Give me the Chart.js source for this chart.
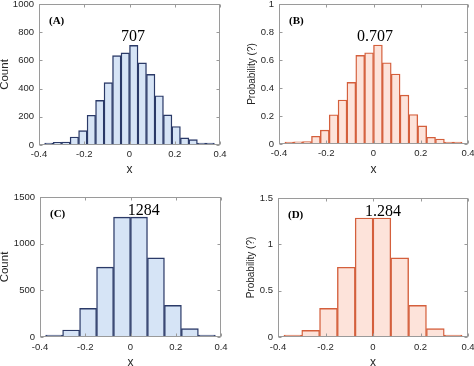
<!DOCTYPE html>
<html>
<head>
<meta charset="utf-8">
<script src="https://cdn.jsdelivr.net/npm/chart.js@4.4.0/dist/chart.umd.min.js"></script>
<style>
    html, body { margin: 0; padding: 0; background: #fff; overflow: hidden; }
    .panel { position: absolute; width: 237px; height: 183px; }
</style>
</head>
<body>
<div class="panel" style="left:0;top:0"><canvas id="chartA"></canvas></div>
<div class="panel" style="left:237px;top:0"><canvas id="chartB"></canvas></div>
<div class="panel" style="left:0;top:183px"><canvas id="chartC"></canvas></div>
<div class="panel" style="left:237px;top:183px"><canvas id="chartD"></canvas></div>
<script>
// bin centres (bin width 0.0375 on top row, 0.075 on bottom row)
const binsFine = [-0.35625, -0.31875, -0.28125, -0.24375, -0.20625, -0.16875, -0.13125, -0.09375, -0.05625, -0.01875,
    0.01875, 0.05625, 0.09375, 0.13125, 0.16875, 0.20625, 0.24375, 0.28125, 0.31875, 0.35625];
const binsCoarse = [-0.3375, -0.2625, -0.1875, -0.1125, -0.0375, 0.0375, 0.1125, 0.1875, 0.2625, 0.3375];

const countsA = [7, 19, 21, 57, 102, 211, 316, 442, 634, 653, 707, 582, 501, 349, 214, 131, 50, 38, 9, 5];
const probB = [0.005, 0.016, 0.018, 0.055, 0.099, 0.209, 0.314, 0.44, 0.633, 0.652, 0.707, 0.58, 0.5, 0.349, 0.211, 0.129, 0.048, 0.036, 0.006, 0.003];
const countsC = [21, 75, 306, 748, 1284, 1284, 848, 338, 89, 7];
const probD = [0.018, 0.072, 0.309, 0.753, 1.284, 1.284, 0.854, 0.341, 0.09, 0.007];

const xTicks = [-0.4, -0.2, 0, 0.2, 0.4];

const blue = { fill: '#d6e4f6', edge: '#2b3a68' };
const red = { fill: '#fde3da', edge: '#d45f3c' };

// box round the axes, inward ticks, panel tag and peak value
const frame = {
    id: 'frame',
    afterDatasetsDraw(chart, args, opts) {
        const { ctx, chartArea: a, scales: { x, y } } = chart;
        const l = Math.round(a.left) + 0.5, r = Math.round(a.right) - 0.5;
        const t = Math.round(a.top) + 0.5, b = Math.round(a.bottom) - 0.5;
        ctx.save();
        ctx.strokeStyle = '#9a9a9a';
        ctx.lineWidth = 1;
        ctx.strokeRect(l, t, r - l, b - t);
        ctx.beginPath();
        x.ticks.forEach(tk => {
            const px = Math.round(x.getPixelForValue(tk.value)) + 0.5;
            ctx.moveTo(px, b); ctx.lineTo(px, b - 3);
            ctx.moveTo(px, t); ctx.lineTo(px, t + 3);
        });
        y.ticks.forEach(tk => {
            const py = Math.round(y.getPixelForValue(tk.value)) + 0.5;
            ctx.moveTo(l, py); ctx.lineTo(l + 3, py);
            ctx.moveTo(r, py); ctx.lineTo(r - 3, py);
        });
        ctx.stroke();

        ctx.fillStyle = '#000';
        ctx.textAlign = 'left';
        ctx.textBaseline = 'alphabetic';
        ctx.font = 'bold 11px "Liberation Serif"';
        ctx.fillText(opts.tag, a.left + 10, a.top + 20);

        ctx.textAlign = 'center';
        ctx.font = '16px "Liberation Serif"';
        ctx.fillText(opts.peakText, x.getPixelForValue(opts.peakX), y.getPixelForValue(opts.peakY) - opts.peakGap);
        ctx.restore();
    }
};

function makeHist(id, p) {
    const W = 237, H = 183;
    return new Chart(document.getElementById(id), {
        type: 'bar',
        data: {
            datasets: [{
                data: p.bins.map((b, i) => ({ x: b, y: p.values[i] })),
                backgroundColor: p.color.fill,
                borderColor: p.color.edge,
                borderWidth: 1.4,
                borderSkipped: false,
                minBarLength: 2,
                barPercentage: 1,
                categoryPercentage: 1
            }]
        },
        options: {
            responsive: false,
            animation: false,
            devicePixelRatio: 1,
            layout: { padding: { top: p.area.top, right: W - p.area.right, left: 0, bottom: 0 } },
            plugins: {
                legend: { display: false },
                tooltip: { enabled: false },
                frame: { tag: p.tag, peakText: p.peakText, peakX: p.peakX, peakY: p.peakY, peakGap: p.peakGap }
            },
            scales: {
                x: {
                    type: 'linear',
                    offset: false,
                    min: -0.4,
                    max: 0.4,
                    afterBuildTicks: s => { s.ticks = xTicks.map(v => ({ value: v })); },
                    grid: { display: false, drawTicks: false },
                    border: { display: false },
                    ticks: {
                        color: '#262626',
                        padding: p.xTickPad,
                        maxRotation: 0,
                        autoSkip: false,
                        font: { family: 'Liberation Sans', size: 9.5 },
                        callback: v => String(Math.round(v * 10) / 10)
                    },
                    title: {
                        display: true,
                        text: 'x',
                        color: '#262626',
                        font: { family: 'Liberation Sans', size: 12 },
                        padding: { top: 0, bottom: p.xTitlePad }
                    },
                    afterFit: s => { s.height = H - p.area.bottom; s.paddingLeft = 0; s.paddingRight = 0; }
                },
                y: {
                    min: 0,
                    max: p.yMax,
                    afterBuildTicks: s => { s.ticks = p.yTicks.map(v => ({ value: v })); },
                    grid: { display: false, drawTicks: false },
                    border: { display: false },
                    ticks: {
                        color: '#262626',
                        padding: 5,
                        font: { family: 'Liberation Sans', size: 9.5 },
                        callback: v => String(Math.round(v * 100) / 100)
                    },
                    title: {
                        display: true,
                        text: p.yTitle,
                        color: '#262626',
                        font: { family: 'Liberation Sans', size: p.yTitleSize },
                        padding: { top: p.yTitlePad, bottom: 0 }
                    },
                    afterFit: s => { s.width = p.area.left; s.paddingTop = 0; s.paddingBottom = 0; }
                }
            }
        },
        plugins: [frame]
    });
}

document.querySelectorAll('canvas').forEach(c => { c.width = 237; c.height = 183; });

makeHist('chartA', {
    bins: binsFine, values: countsA, color: blue, tag: '(A)',
    peakText: '707', peakX: 0.015, peakY: 707, peakGap: 4,
    yMax: 1000, yTicks: [0, 200, 400, 600, 800, 1000],
    yTitle: 'Count', yTitleSize: 11.5, yTitlePad: -2,
    area: { left: 39, right: 220, top: 4, bottom: 145 }, xTickPad: 4, xTitlePad: 6
});
makeHist('chartB', {
    bins: binsFine, values: probB, color: red, tag: '(B)',
    peakText: '0.707', peakX: 0.006, peakY: 0.707, peakGap: 4,
    yMax: 1, yTicks: [0, 0.2, 0.4, 0.6, 0.8, 1],
    yTitle: 'Probability (?)', yTitleSize: 10, yTitlePad: 9,
    area: { left: 42, right: 231, top: 4, bottom: 144 }, xTickPad: 4, xTitlePad: 6
});
makeHist('chartC', {
    bins: binsCoarse, values: countsC, color: blue, tag: '(C)',
    peakText: '1284', peakX: 0.059, peakY: 1284, peakGap: 2,
    yMax: 1500, yTicks: [0, 500, 1000, 1500],
    yTitle: 'Count', yTitleSize: 11.5, yTitlePad: -2,
    area: { left: 40, right: 221, top: 14, bottom: 154 }, xTickPad: 5, xTitlePad: -4
});
makeHist('chartD', {
    bins: binsCoarse, values: probD, color: red, tag: '(D)',
    peakText: '1.284', peakX: 0.042, peakY: 1.284, peakGap: 2,
    yMax: 1.5, yTicks: [0, 0.5, 1, 1.5],
    yTitle: 'Probability (?)', yTitleSize: 10, yTitlePad: 8.5,
    area: { left: 41, right: 231, top: 15, bottom: 154 }, xTickPad: 5, xTitlePad: -4
});
</script>
</body>
</html>
